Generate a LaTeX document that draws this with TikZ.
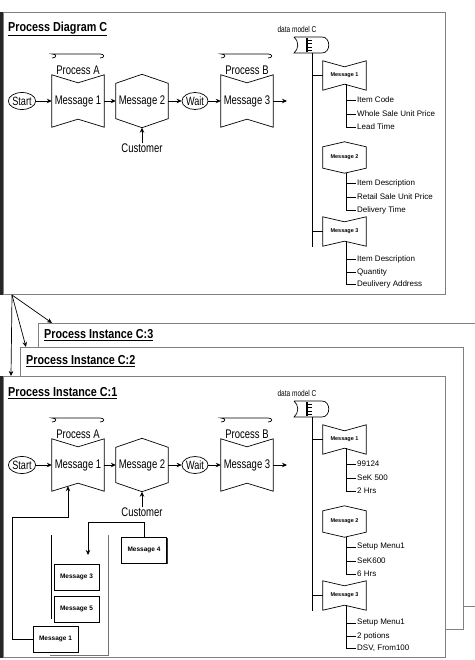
\documentclass[tikz,border=0pt]{standalone}
\usepackage{fontspec}
\setmainfont{Liberation Sans}
\newfontfamily\narrowfont[FakeStretch=0.76]{Liberation Sans}
\newfontfamily\titlefont[FakeStretch=0.83]{Liberation Sans}
\usetikzlibrary{shapes.geometric,arrows.meta,shadows}

\tikzset{
  ln/.style={line width=0.7pt, black},
  arr/.style={ln, -{Stealth[length=5pt,width=4.5pt]}},
  oval/.style={ellipse, draw, ln, minimum width=26pt, minimum height=17pt, inner sep=0pt, font=\narrowfont\fontsize{12}{12}\selectfont},
  shp/.style={inner sep=0pt, font=\narrowfont\fontsize{12.5}{13}\selectfont},
  lbl/.style={inner sep=0pt, font=\narrowfont\fontsize{12.5}{13}\selectfont},
  small/.style={inner sep=0pt, font=\bfseries\fontsize{5.5}{6}\selectfont},
  dmlabel/.style={inner sep=0pt, font=\narrowfont\fontsize{8.6}{9}\selectfont},
  attr/.style={inner sep=1pt, anchor=west, font=\fontsize{8}{9}\selectfont},
  title/.style={inner sep=0pt, anchor=west, font=\titlefont\bfseries\fontsize{13}{14}\selectfont},
  frame/.style={draw=black!50, line width=1pt, fill=white, anchor=north west, inner sep=0pt},
  edge/.style={line width=3pt, black!85},
  mbox/.style={draw, ln, fill=white, minimum width=45pt, minimum height=26pt, inner sep=0pt,
    font=\bfseries\fontsize{6.5}{7}\selectfont,
    drop shadow={shadow xshift=1pt, shadow yshift=-1pt, fill=black!80, opacity=1}},
}

\newcommand\bowshape[2]{\draw[ln] (#1.north west) -- ([yshift=-#2]#1.north) -- (#1.north east) -- (#1.south east) -- ([yshift=#2]#1.south) -- (#1.south west) -- cycle;}
\newcommand\hexshape[2]{\draw[ln] (#1.north) -- ([yshift=-#2]#1.north east) -- ([yshift=#2]#1.south east) -- (#1.south) -- ([yshift=#2]#1.south west) -- ([yshift=-#2]#1.north west) -- cycle;}
\newcommand\bracketline[2]{\draw[ln] (#1,58) .. controls (#1+5,58) and (#1+5,54) .. (#1,54) -- (#2,54) .. controls (#2+5,54) and (#2+5,58) .. (#2,58);}

\newcommand\procbody{%
  \bracketline{52}{100}
  \bracketline{221}{268}
  \node[lbl] (pa) at (78,70) {Process A};
  \node[lbl] (pb) at (247,70) {Process B};
  \node[oval] (start) at (22,101) {Start};
  \node[shp, minimum width=52pt, minimum height=52pt] (m1) at (78,101) {Message 1};
  \bowshape{m1}{8}
  \node[shp, minimum width=52pt, minimum height=53pt] (m2) at (142,101) {Message 2};
  \hexshape{m2}{9}
  \node[oval] (wait) at (195,101) {Wait};
  \node[shp, minimum width=52pt, minimum height=52pt] (m3) at (247,101) {Message 3};
  \bowshape{m3}{8}
  \coordinate (out) at (287,101);
  \node[lbl] (cust) at (142,148) {Customer};
  \draw[arr] (start) -- (m1);
  \draw[arr] (m1) -- (m2);
  \draw[arr] (m2) -- (wait);
  \draw[arr] (wait) -- (m3);
  \draw[arr] (m3) -- (out);
  \draw[arr] (cust) -- (m2);
  % data model
  \node[dmlabel] (dmt) at (297,29) {data model C};
  \draw[ln] (294,37) -- (322,37) .. controls (331,37) and (331,53) .. (322,53) -- (294,53) .. controls (299,49) and (299,41) .. (294,37);
  \draw[line width=1.8pt] (307,38) -- (307,52);
  \foreach \yy in {40,43.5,47,50.5} \draw[ln] (307,\yy) -- (312,\yy);
  \coordinate (t0) at (312,53);
  \coordinate (t1) at (312,247);
  \draw[ln] (t0) -- (t1);
  \node[small, minimum width=43pt, minimum height=29pt] (d1) at (344.5,75.5) {Message 1};
  \bowshape{d1}{6}
  \node[small, minimum width=43pt, minimum height=31pt] (d2) at (344.5,157.5) {Message 2};
  \hexshape{d2}{5}
  \node[small, minimum width=43pt, minimum height=29pt] (d3) at (344.5,231.5) {Message 3};
  \bowshape{d3}{5}
  \draw[ln] (d1.west -| t0) -- (d1.west);
  \draw[ln] (d3.west -| t0) -- (d3.west);
}

\newcommand\attrlist[9]{%
  \node[attr] (a1) at (356,100) {#1};
  \node[attr] (a2) at (356,114) {#2};
  \node[attr] (a3) at (356,127) {#3};
  \node[attr] (a4) at (356,183) {#4};
  \node[attr] (a5) at (356,197) {#5};
  \node[attr] (a6) at (356,210) {#6};
  \node[attr] (a7) at (356,259) {#7};
  \node[attr] (a8) at (356,272) {#8};
  \node[attr] (a9) at (356,284) {#9};
  \coordinate (v1) at ([xshift=1.5pt,yshift=6pt]d1.south);
  \coordinate (v2) at ([xshift=1.5pt]d2.south);
  \coordinate (v3) at ([xshift=1.5pt,yshift=5pt]d3.south);
  \draw[ln] (v1) |- (a3.west);
  \draw[ln] (a1.west -| v1) -- (a1.west);
  \draw[ln] (a2.west -| v1) -- (a2.west);
  \draw[ln] (v2) |- (a6.west);
  \draw[ln] (a4.west -| v2) -- (a4.west);
  \draw[ln] (a5.west -| v2) -- (a5.west);
  \draw[ln] (v3) |- (a9.west);
  \draw[ln] (a7.west -| v3) -- (a7.west);
  \draw[ln] (a8.west -| v3) -- (a8.west);
}

\begin{document}
\begin{tikzpicture}[x=1pt, y=-1pt]
  \useasboundingbox[fill=white] (0,0) rectangle (474,660);

  % instance frames (back to front)
  \node[frame, minimum width=442pt, minimum height=283pt] (f3) at (38,323) {};
  \node[title] (tt3) at (44,335) {\underline{Process Instance C:3}};
  \node[frame, minimum width=443pt, minimum height=282pt] (f2) at (20,347) {};
  \node[title] (tt2) at (26,361) {\underline{Process Instance C:2}};
  \node[frame, minimum width=442pt, minimum height=281pt] (f1) at (3,376) {};
  \draw[edge] ([xshift=-1.5pt]f1.north west) -- ([xshift=-1.5pt]f1.south west);

  % top frame
  \node[frame, minimum width=442pt, minimum height=282pt] (ftop) at (3,12) {};
  \draw[edge] ([xshift=-1.5pt]ftop.north west) -- ([xshift=-1.5pt]ftop.south west);
  \node[title] (tt0) at (8,29) {\underline{Process Diagram C}};

  \procbody
  \attrlist{Item Code}{Whole Sale Unit Price}{Lead Time}{Item Description}{Retail Sale Unit Price}{Delivery Time}{Item Description}{Quantity}{Deulivery Address}

  % instance arrows
  \coordinate (src) at ([xshift=9pt]ftop.south west);
  \draw[arr] (src) -- ([xshift=14pt]f3.north west);
  \draw[arr] (src) -- ([xshift=6pt]f2.north west);
  \draw[arr] (src) -- ([xshift=8pt]f1.north west);

  % instance C:1 content
  \node[title] (tt1) at (8,393) {\underline{Process Instance C:1}};
  \begin{scope}[yshift=-364pt, name prefix=b-]
    \procbody
    \attrlist{99124}{SeK 500}{2 Hrs}{Setup Menu1}{SeK600}{6 Hrs}{Setup Menu1}{2 potions}{DSV, From100}
  \end{scope}

  % bottom-left message boxes
  \node[mbox] (bx1) at (55.5,639) {Message 1};
  \node[mbox] (bx3) at (76.5,577) {Message 3};
  \node[mbox] (bx5) at (76.5,609) {Message 5};
  \node[mbox] (bx4) at (144,550) {Message 4};
  \coordinate (m1in) at ([xshift=-10pt,yshift=5pt]b-m1.south);
  \coordinate (c1) at (12,517);
  \draw[arr] (bx1.west) -| (c1) -| (m1in);
  \draw[ln] (51,535) -- (51,619);
  \draw[black!55, line width=1pt] (108,535) |- (50,655);
  \coordinate (c4) at (88,522);
  \coordinate (c4e) at (88,555);
  \draw[arr] (bx4.north) |- (c4) -- (c4e);
\end{tikzpicture}
\end{document}
